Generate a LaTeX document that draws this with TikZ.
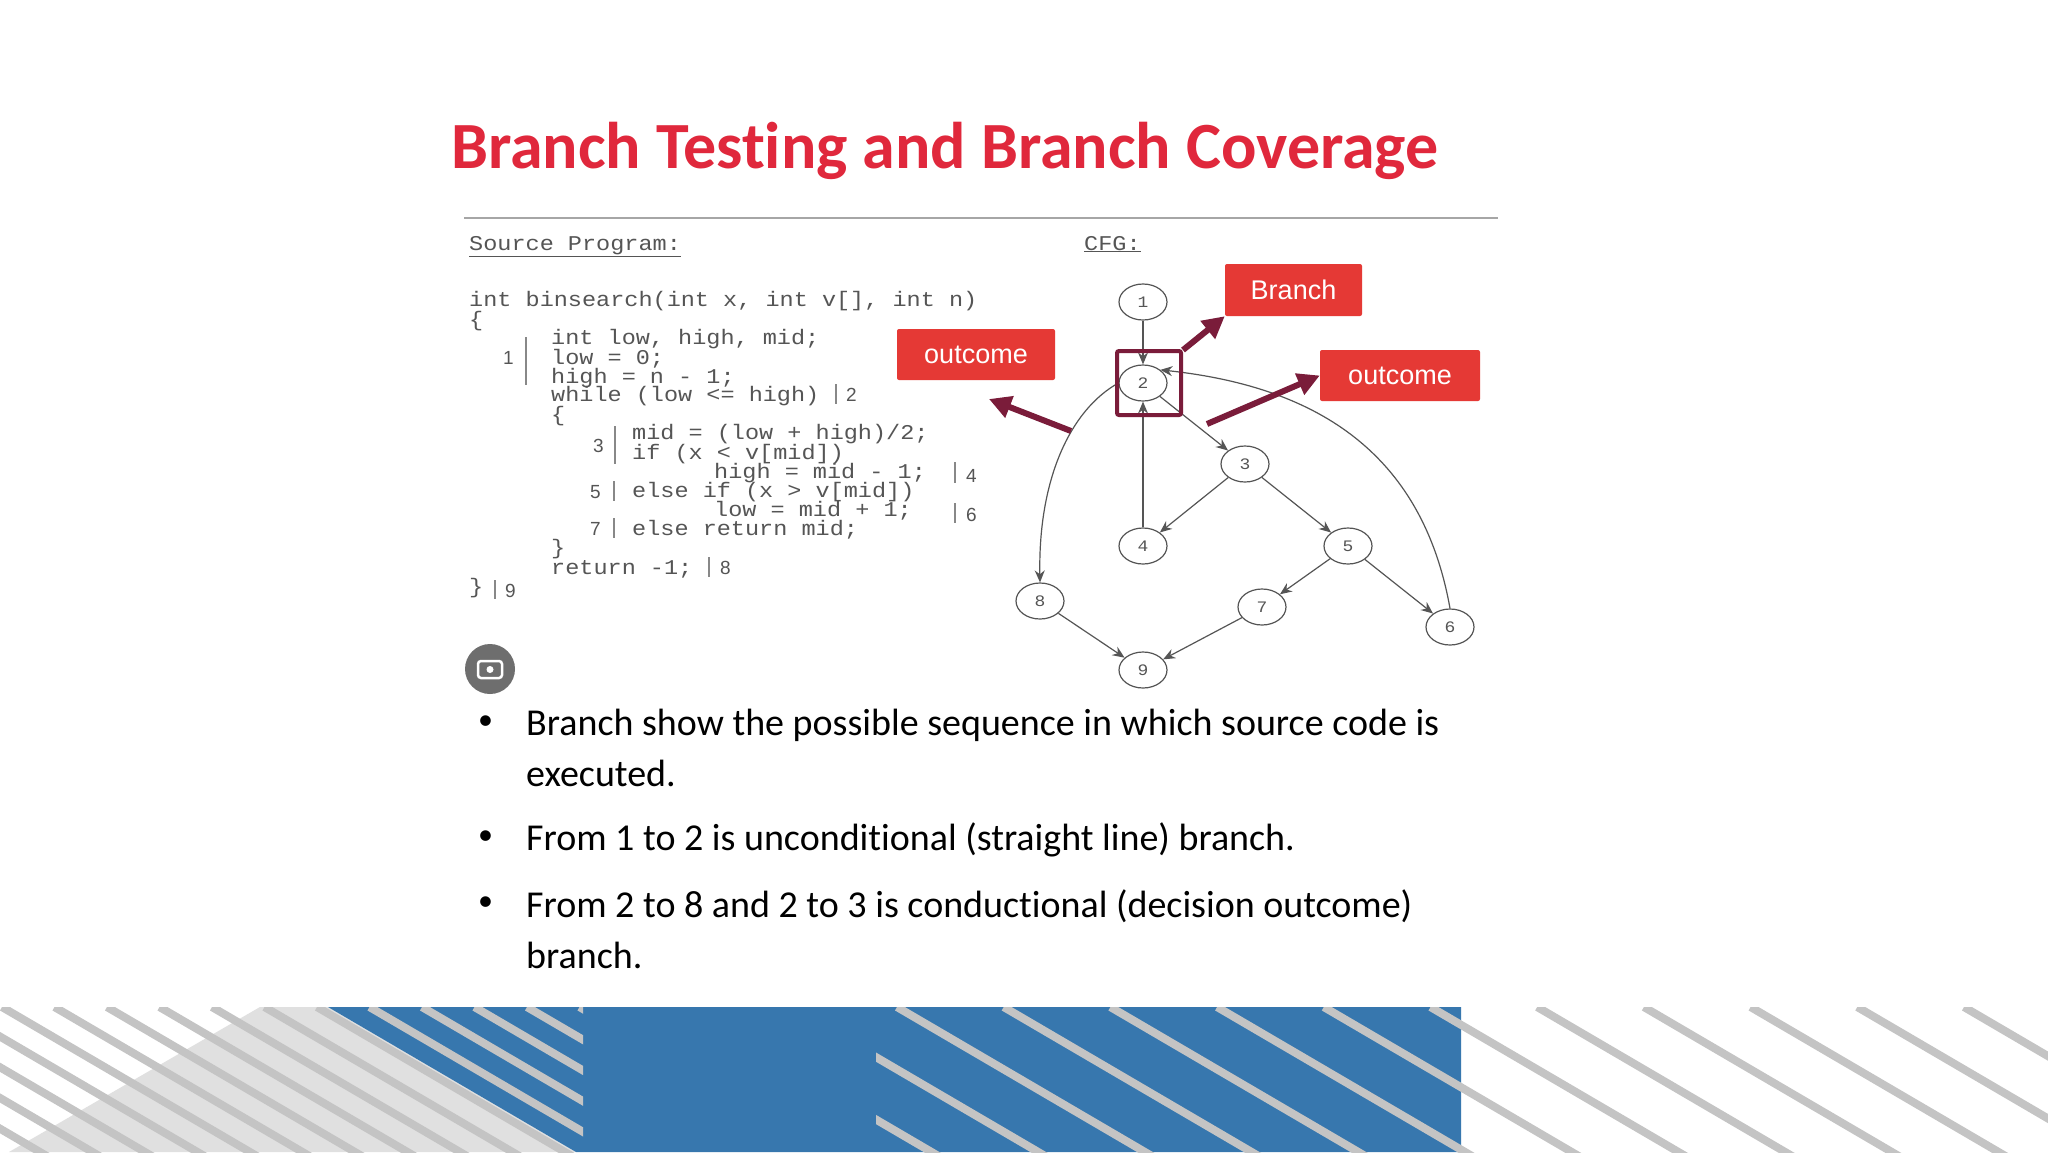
\documentclass[tikz,border=0pt]{standalone}
\usepackage{fontspec}
\setmainfont[Ligatures={NoCommon}]{Carlito}
\newfontfamily\codefont[FakeStretch=1.12]{Liberation Mono}
\newfontfamily\lblfont{Liberation Sans}
\usetikzlibrary{arrows.meta,shapes.geometric}
\definecolor{titlered}{HTML}{E0283C}
\definecolor{boxred}{HTML}{E53935}
\definecolor{maroon}{HTML}{7A1C3A}
\definecolor{bandblue}{HTML}{3777AE}
\definecolor{stripe}{HTML}{C4C4C4}
\definecolor{lgray}{HTML}{E0E0E0}
\definecolor{codegray}{HTML}{555555}
\tikzset{
 code/.style={anchor=base west,inner sep=0,font=\codefont\fontsize{21}{21}\selectfont,text=codegray},
 num/.style={anchor=base west,inner sep=0,font=\lblfont\fontsize{19}{19}\selectfont,text=codegray},
 bar/.style={draw=codegray!70,line width=1.2},
 cfg/.style={ellipse,draw=codegray,line width=1.2,minimum width=48,minimum height=36,inner sep=0,font=\codefont\fontsize{16}{16}\selectfont,text=codegray},
 edge/.style={draw=codegray,line width=1.2,-{Stealth[length=12,width=10]}},
 tag/.style={fill=boxred,text=white,font=\lblfont\fontsize{27}{27}\selectfont,inner sep=0,rounded corners=2},
 pointer/.style={draw=maroon,line width=6,-{Triangle[length=22,width=22]}},
 bullet/.style={anchor=west,inner sep=0,font=\fontsize{38}{38}\selectfont,text=black},
 stripeline/.style={draw=stripe,line width=8}
}
\begin{document}
\begin{tikzpicture}[x=1pt,y=-1pt]
\useasboundingbox (0,0) rectangle (2048,1152);
\fill[white] (0,0) rectangle (2048,1152);
% title
\node[anchor=west,inner sep=0,font=\bfseries\fontsize{66}{66}\selectfont,text=titlered] (title) at (451,151) {Branch Testing and Branch Coverage};
\draw[draw=gray!70,line width=1.5] (464,218) -- (1498,218);
% source
\node[code] (src) at (469,250) {\underline{Source Program:}};
\node[code] (cfgh) at (1084,250) {\underline{CFG:}};
\node[code] (l1) at (469,306) {int binsearch(int x, int v[], int n)};
\node[code] (l2) at (469,326) {\{};
\node[code] (l3) at (551,344) {int low, high, mid;};
\node[code] (l4) at (551,364) {low = 0;};
\node[code] (l5) at (551,383) {high = n - 1;};
\node[code] (l6) at (551,401) {while (low <= high)};
\node[code] (l7) at (551,421) {\{};
\node[code] (l8) at (632,439) {mid = (low + high)/2;};
\node[code] (l9) at (632,459) {if (x < v[mid])};
\node[code] (l10) at (714,478) {high = mid - 1;};
\node[code] (l11) at (632,497) {else if (x > v[mid])};
\node[code] (l12) at (714,516) {low = mid + 1;};
\node[code] (l13) at (632,535) {else return mid;};
\node[code] (l14) at (551,554) {\}};
\node[code] (l15) at (551,574) {return -1;};
\node[code] (l16) at (469,593) {\}};
\node[num] (n1) at (503,364) {1}; \draw[bar] (526,337) -- (526,385);
\node[num] (n2) at (846,401) {2}; \draw[bar] (836,384) -- (836,404);
\node[num] (n3) at (593,452) {3}; \draw[bar] (615,426) -- (615,464);
\node[num] (n4) at (966,482) {4}; \draw[bar] (955,462) -- (955,483);
\node[num] (n5) at (590,498) {5}; \draw[bar] (614,481) -- (614,501);
\node[num] (n6) at (966,521) {6}; \draw[bar] (955,503) -- (955,523);
\node[num] (n7) at (590,535) {7}; \draw[bar] (614,518) -- (614,538);
\node[num] (n8) at (720,574) {8}; \draw[bar] (709,557) -- (709,577);
\node[num] (n9) at (505,597) {9}; \draw[bar] (495,580) -- (495,599);
% CFG
\node[cfg] (c1) at (1143,302) {1};
\node[cfg] (c2) at (1143,383) {2};
\node[cfg] (c3) at (1245,464) {3};
\node[cfg] (c4) at (1143,546) {4};
\node[cfg] (c5) at (1348,546) {5};
\node[cfg] (c6) at (1450,627) {6};
\node[cfg] (c7) at (1262,607) {7};
\node[cfg] (c8) at (1040,601) {8};
\node[cfg] (c9) at (1143,670) {9};
\draw[edge] (c1) -- (c2);
\draw[edge] (c2) -- (c3);
\draw[edge] (c3) -- (c4);
\draw[edge] (c3) -- (c5);
\draw[edge] (c4) -- (c2);
\draw[edge] (c5) -- (c7);
\draw[edge] (c5) -- (c6);
\draw[edge] (c8) -- (c9);
\draw[edge] (c7) -- (c9);
\draw[edge] (c6.north) .. controls (1420,440) and (1300,385) .. (c2.north east);
\draw[edge] (c2.west) .. controls (1070,410) and (1038,480) .. (c8.north);
\node[draw=maroon,line width=4,minimum width=64,minimum height=64,inner sep=0,rounded corners=2] (hl) at (1149,383) {};
% tags
\node[tag,minimum width=137,minimum height=52] (tb) at (1293.5,290) {Branch};
\node[tag,minimum width=158,minimum height=51] (to1) at (976,354.5) {outcome};
\node[tag,minimum width=160,minimum height=51] (to2) at (1400,375.5) {outcome};
\coordinate (p1) at (1183,350); \coordinate (p2) at (1207,424); \coordinate (p3) at (1071,431);
\draw[pointer] (p1) -- (tb.south west);
\draw[pointer] (p2) -- (to2.west);
\draw[pointer] (p3) -- (989,399);
% camera icon
\node[circle,fill=codegray!85,minimum size=50,inner sep=0] (cam) at (490,669) {};
\draw[white,line width=2.5,rounded corners=3] (478,661) rectangle (502,678);
\fill[white] (490,669.5) circle (3.5);
% bullets
\node[bullet,font=\fontsize{30}{30}\selectfont] (b1) at (478,723) {•};
\node[bullet] (t1) at (526,725) {Branch show the possible sequence in which source code is};
\node[bullet] (t1b) at (526,773) {executed.};
\node[bullet,font=\fontsize{30}{30}\selectfont] (b2) at (478,838) {•};
\node[bullet] (t2) at (526,840) {From 1 to 2 is unconditional (straight line) branch.};
\node[bullet,font=\fontsize{30}{30}\selectfont] (b3) at (478,904) {•};
\node[bullet] (t3) at (526,906) {From 2 to 8 and 2 to 3 is conductional (decision outcome)};
\node[bullet] (t3b) at (526,955) {branch.};
% band
\fill[lgray] (260,1007) -- (328,1007) -- (576,1152) -- (9,1152) -- cycle;
\fill[bandblue] (328,1007) -- (1461,1007) -- (1461,1152) -- (576,1152) -- cycle;
\begin{scope}
\clip (0,1007) rectangle (583,1152);
\foreach \k in {-6,...,12} {
  \draw[stripeline] ({\k*52.5+2},1007) -- ({\k*52.5+2+1.71*150},1157);
}
\end{scope}
\begin{scope}
\clip (876,1007) rectangle (2048,1152);
\foreach \k in {-3,...,11} {
  \draw[stripeline] ({897+\k*106.7},1007) -- ({897+\k*106.7+1.71*150},1157);
}
\end{scope}
\end{tikzpicture}
\end{document}
